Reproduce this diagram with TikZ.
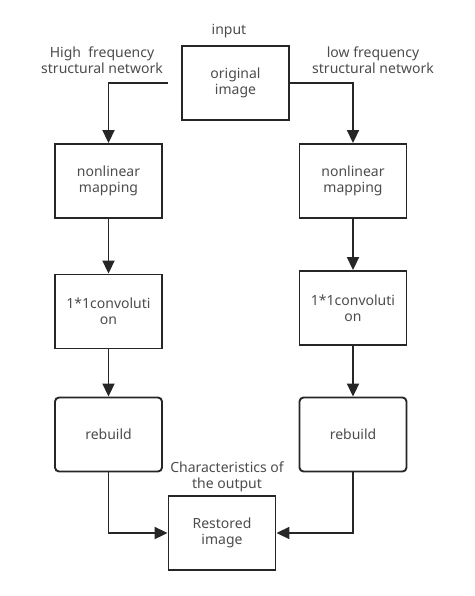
\documentclass[tikz,border=0pt]{standalone}
\usepackage{fontspec}
\setmainfont{Noto Sans}
\usetikzlibrary{arrows.meta,positioning}

\begin{document}
\begin{tikzpicture}[x=1pt,y=-1pt,
    txt/.style={text=black!70,font=\fontsize{14}{16}\selectfont,align=center},
    box/.style={draw=black!85,line width=1.9pt,minimum width=107pt,minimum height=74pt,inner sep=0pt,txt},
    rbox/.style={box,rounded corners=4pt},
    arr/.style={draw=black!85,line width=1.9pt,-{Triangle[length=13pt,width=12pt]}}]
        \useasboundingbox (0,0) rectangle (474,596);
        % Input and the two branches
        \node[box] (orig) at (235.5,83) {original\\image};
        \node[txt] (inlbl) at (229,31) {input};
        \node[txt] (hilbl) at (102,60) {High\ \ frequency\\structural network};
        \node[txt] (lolbl) at (373,60) {low frequency\\structural network};
        \coordinate (hstart) at (168,83);
        % Left column
        \node[box] (nlA) at (108.5,181) {nonlinear\\mapping};
        \node[box] (convA) at (108.5,311.5) {1*1convoluti\\on};
        \node[rbox] (rbA) at (108.5,434.5) {rebuild};
        % Right column
        \node[box] (nlB) at (353,181) {nonlinear\\mapping};
        \node[box] (convB) at (353,308) {1*1convoluti\\on};
        \node[rbox] (rbB) at (353,434.5) {rebuild};
        % Output
        \node[box] (rest) at (222,533) {Restored\\image};
        \node[txt] (outlbl) at (227,477) {Characteristics of\\the output};
        % Connectors
        \draw[arr] (hstart) -| (nlA);
        \draw[arr] (orig.east) -| (nlB);
        \draw[arr] (nlA) -- (convA);
        \draw[arr] (nlB) -- (convB);
        \draw[arr] (convA) -- (rbA);
        \draw[arr] (convB) -- (rbB);
        \draw[arr] (rbA) |- (rest.west);
        \draw[arr] (rbB) |- (rest.east);
    \end{tikzpicture}
\end{document}
